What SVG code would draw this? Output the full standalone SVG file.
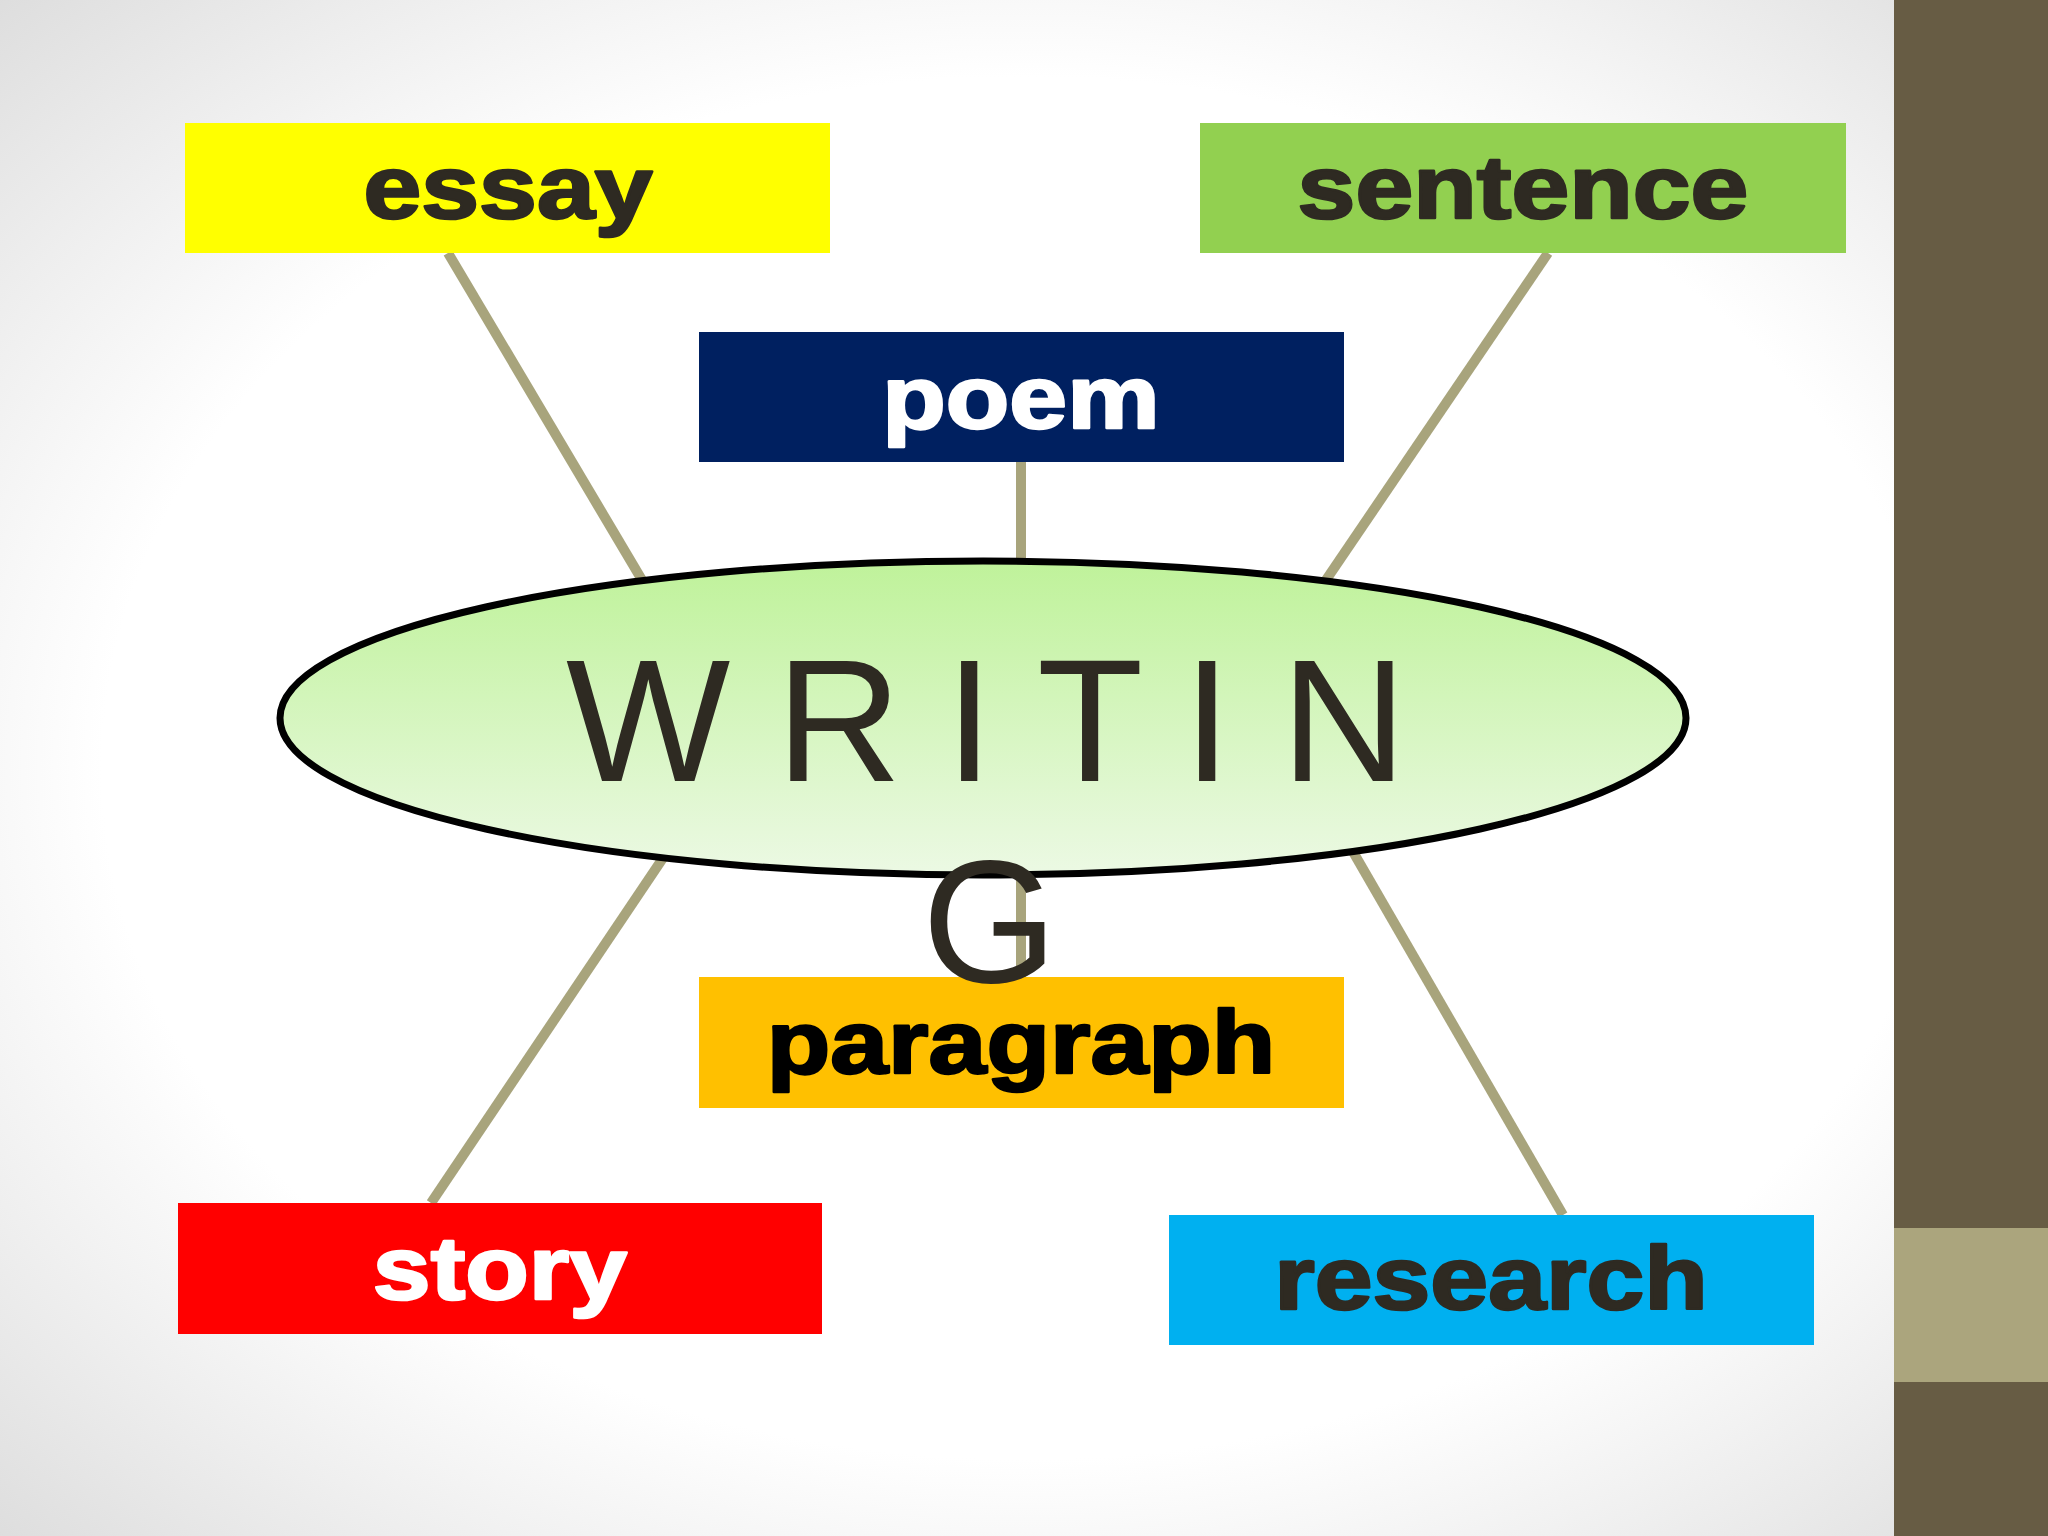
<svg xmlns="http://www.w3.org/2000/svg" width="2048" height="1536" viewBox="0 0 2048 1536">
<defs>
<radialGradient id="bg" cx="0.5" cy="0.5" r="0.75">
<stop offset="0.6" stop-color="#ffffff"/>
<stop offset="1" stop-color="#d8d8d8"/>
</radialGradient>
<linearGradient id="ell" x1="0" y1="0" x2="0" y2="1">
<stop offset="0" stop-color="#bff29a"/>
<stop offset="1" stop-color="#ecf9e4"/>
</linearGradient>
<style>
.conn{stroke:#a8a47c;stroke-width:10;fill:none}
.lbl{font-family:"Liberation Sans",Arial,sans-serif;font-weight:bold;font-size:104px;text-anchor:middle;stroke-width:3;stroke-linejoin:round}
.dark{fill:#2e2a22;stroke:#2e2a22}
.white{fill:#ffffff;stroke:#ffffff}
.black{fill:#000000;stroke:#000000}
.big{font-family:"Liberation Sans",Arial,sans-serif;font-size:174px;fill:#2e2a22}
</style>
</defs>
<rect width="2048" height="1536" fill="url(#bg)"/>
<g id="sidebar">
<rect x="1894" y="0" width="154" height="1536" fill="#675c44"/>
<rect x="1894" y="1228" width="154" height="154" fill="#aba57d"/>
</g>
<g id="connectors">
<line class="conn" x1="448" y1="253" x2="642" y2="580"/>
<line class="conn" x1="1548" y1="253" x2="1326" y2="580"/>
<line class="conn" x1="1021" y1="462" x2="1021" y2="562"/>
<line class="conn" x1="431" y1="1203" x2="663" y2="858"/>
<line class="conn" x1="1563" y1="1215" x2="1352" y2="850"/>
<line class="conn" x1="1021" y1="872" x2="1021" y2="977"/>
</g>
<g id="essay">
<rect x="185" y="123" width="645" height="130" fill="#ffff00"/>
<text class="lbl dark" transform="translate(508,218) scale(1,0.85)">essay</text>
</g>
<g id="sentence">
<rect x="1200" y="123" width="646" height="130" fill="#92d050"/>
<text class="lbl dark" transform="translate(1523,218) scale(1,0.85)">sentence</text>
</g>
<g id="poem">
<rect x="699" y="332" width="645" height="130" fill="#002060"/>
<text class="lbl white" transform="translate(1021,428) scale(1,0.85)">poem</text>
</g>
<g id="paragraph">
<rect x="699" y="977" width="645" height="131" fill="#ffc000"/>
<text class="lbl black" transform="translate(1021,1073) scale(1,0.85)">paragraph</text>
</g>
<g id="story">
<rect x="178" y="1203" width="644" height="131" fill="#ff0000"/>
<text class="lbl white" transform="translate(500,1299) scale(1,0.85)">story</text>
</g>
<g id="research">
<rect x="1169" y="1215" width="645" height="130" fill="#00b0f0"/>
<text class="lbl dark" transform="translate(1491,1309) scale(1,0.85)">research</text>
</g>
<g id="writing">
<ellipse cx="983" cy="718" rx="703" ry="157" fill="url(#ell)" stroke="#000000" stroke-width="7"/>
<text class="big"><tspan x="566 776 945 1037 1183 1281" y="781">WRITIN</tspan><tspan x="922" y="982">G</tspan></text>
</g>
</svg>
